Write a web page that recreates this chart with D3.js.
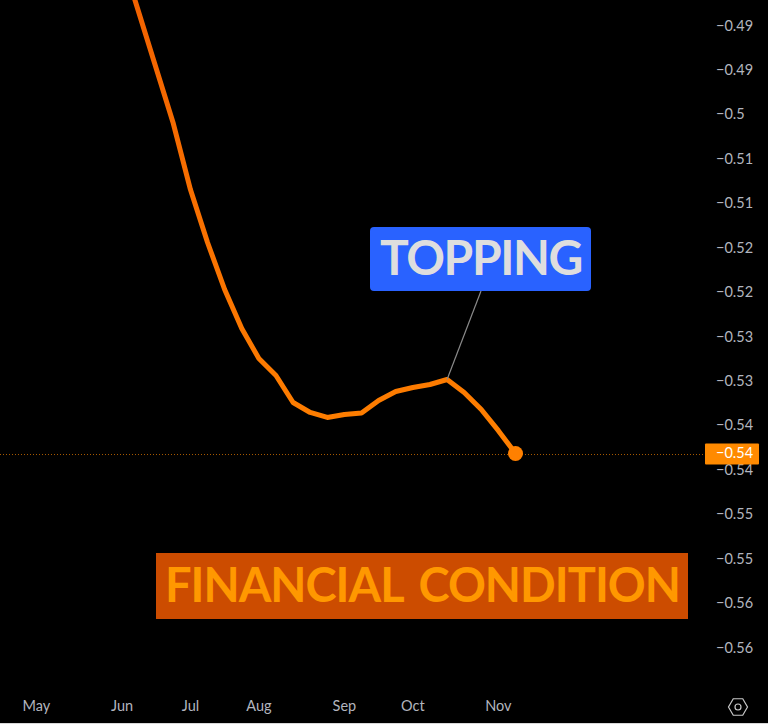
<!DOCTYPE html>
<html>
<head>
<meta charset="utf-8">
<script src="https://cdn.jsdelivr.net/npm/d3@7"></script>
<style>
html, body { margin: 0; padding: 0; background: #000; overflow: hidden; }
svg { display: block; }
text { font-family: Lato, "Noto Sans", sans-serif; }
</style>
</head>
<body>
<svg id="chart"></svg>
<script>
// weekly bars, index 0 = first bar of Jun
const values = [-0.48246, -0.48865, -0.49484, -0.50103, -0.50846, -0.51442, -0.51971, -0.52410,
    -0.52747, -0.52939, -0.53243, -0.53355, -0.53411, -0.53378, -0.53361, -0.53220,
    -0.53119, -0.53074, -0.53040, -0.52984, -0.53130, -0.53321, -0.53560, -0.53817]

const yTicks = [-0.49, -0.495, -0.5, -0.505, -0.51, -0.515, -0.52, -0.525, -0.53, -0.535, -0.54, -0.545, -0.55, -0.555, -0.56]
const yLabels = ['−0.49', '−0.49', '−0.5', '−0.51', '−0.51', '−0.52', '−0.52', '−0.53', '−0.53', '−0.54', '−0.54', '−0.55', '−0.55', '−0.56', '−0.56']

const monthBars = [-5, 0, 4, 8, 13, 17, 22]
const monthLabels = ['May', 'Jun', 'Jul', 'Aug', 'Sep', 'Oct', 'Nov']

const lastLabel = '−0.54'
const peakBar = 19

const width = 768, height = 724
const plotRight = 705

let svg = d3.select('#chart')
    .attr('width', width)
    .attr('height', height)
    .attr('viewBox', `0 0 ${width} ${height}`)

svg.append('rect').attr('width', width).attr('height', height).attr('fill', '#000')

let x = d3.scaleLinear().domain([0, 23]).range([122, 515.5])
let y = d3.scaleLinear().domain([-0.49, -0.56]).range([25.5, 647.5])

let last = values[values.length - 1]

let grad = svg.append('defs').append('linearGradient')
    .attr('id', 'lineGrad')
    .attr('gradientUnits', 'userSpaceOnUse')
    .attr('x1', 0).attr('y1', 0).attr('x2', 0).attr('y2', 460)
grad.append('stop').attr('offset', 0).attr('stop-color', '#f26200')
grad.append('stop').attr('offset', 1).attr('stop-color', '#ff8000')

let axisRight = d3.axisRight(y).tickValues(yTicks).tickFormat((d, i) => yLabels[i]).tickSize(0).tickPadding(0)
let axisBottom = d3.axisBottom(x).tickValues(monthBars).tickFormat((d, i) => monthLabels[i]).tickSize(0).tickPadding(0)

let yAxisG = svg.append('g')
    .attr('transform', 'translate(716, 0)')
    .call(axisRight)
yAxisG.select('.domain').remove()
yAxisG.selectAll('text').attr('fill', '#b2b5be').attr('font-size', 14.5)

let xAxisG = svg.append('g')
    .attr('transform', 'translate(-0.5, 701)')
    .call(axisBottom)
xAxisG.select('.domain').remove()
xAxisG.selectAll('text').attr('fill', '#b2b5be').attr('font-size', 14.5)

// last value line
svg.append('line')
    .attr('x1', 0).attr('x2', plotRight)
    .attr('y1', y(last) + 1).attr('y2', y(last) + 1)
    .attr('stroke', '#a85a00')
    .attr('stroke-width', 1)
    .attr('stroke-dasharray', '1 2')

let line = d3.line().x((d, i) => x(i)).y(d => y(d))

svg.append('path')
    .datum(values)
    .attr('d', line)
    .attr('fill', 'none')
    .attr('stroke', 'url(#lineGrad)')
    .attr('stroke-width', 5)
    .attr('stroke-linejoin', 'round')

svg.append('circle')
    .attr('cx', x(23)).attr('cy', y(last))
    .attr('r', 7.5)
    .attr('fill', '#ff8000')

// price tag
svg.append('rect')
    .attr('x', 705).attr('y', 443.5)
    .attr('width', 54).attr('height', 21)
    .attr('rx', 1)
    .attr('fill', '#ff8a00')
svg.append('text')
    .attr('x', 716).attr('y', 458)
    .attr('fill', '#fff')
    .attr('font-size', 14.5)
    .text(lastLabel)

// fit a label to a width by letter spacing, the font has no exact match
function fitText(sel, w) {
    let natural = sel.node().getComputedTextLength()
    sel.style('letter-spacing', (w - natural) / sel.text().length + 'px')
}

// TOPPING callout
svg.append('line')
    .attr('x1', x(peakBar)).attr('y1', y(values[peakBar]))
    .attr('x2', 481).attr('y2', 291)
    .attr('stroke', '#8a8a8a')
    .attr('stroke-width', 1.2)
svg.append('rect')
    .attr('x', 370).attr('y', 227)
    .attr('width', 221).attr('height', 64)
    .attr('rx', 4)
    .attr('fill', '#2962ff')
let toppingText = svg.append('text')
    .attr('x', 380).attr('y', 275)
    .attr('fill', '#dedede')
    .attr('font-size', 48)
    .attr('font-weight', 700)
    .text('TOPPING')
fitText(toppingText, 202)

// FINANCIAL CONDITION label
svg.append('rect')
    .attr('x', 156).attr('y', 553)
    .attr('width', 532).attr('height', 66)
    .attr('fill', '#cc4c00')
let financialText = svg.append('text')
    .attr('x', 165).attr('y', 602)
    .attr('fill', '#ff9800')
    .attr('font-size', 47)
    .attr('font-weight', 700)
    .style('word-spacing', '6px')
    .text('FINANCIAL CONDITION')
fitText(financialText, 515)

// settings icon
let hex = d3.range(6).map(i => {
    let a = i * Math.PI / 3
    return [738 + 9.5 * Math.cos(a), 707 + 9.5 * Math.sin(a)]
})
svg.append('polygon')
    .attr('points', hex.map(p => p.join(',')).join(' '))
    .attr('fill', 'none')
    .attr('stroke', '#c8c8c8')
    .attr('stroke-width', 1.2)
svg.append('circle')
    .attr('cx', 738).attr('cy', 707).attr('r', 3)
    .attr('fill', 'none')
    .attr('stroke', '#c8c8c8')
    .attr('stroke-width', 1.2)

// bottom edge of the screenshot
svg.append('rect')
    .attr('x', 0).attr('y', 723)
    .attr('width', width).attr('height', 1)
    .attr('fill', '#d8d8d8')
</script>
</body>
</html>
